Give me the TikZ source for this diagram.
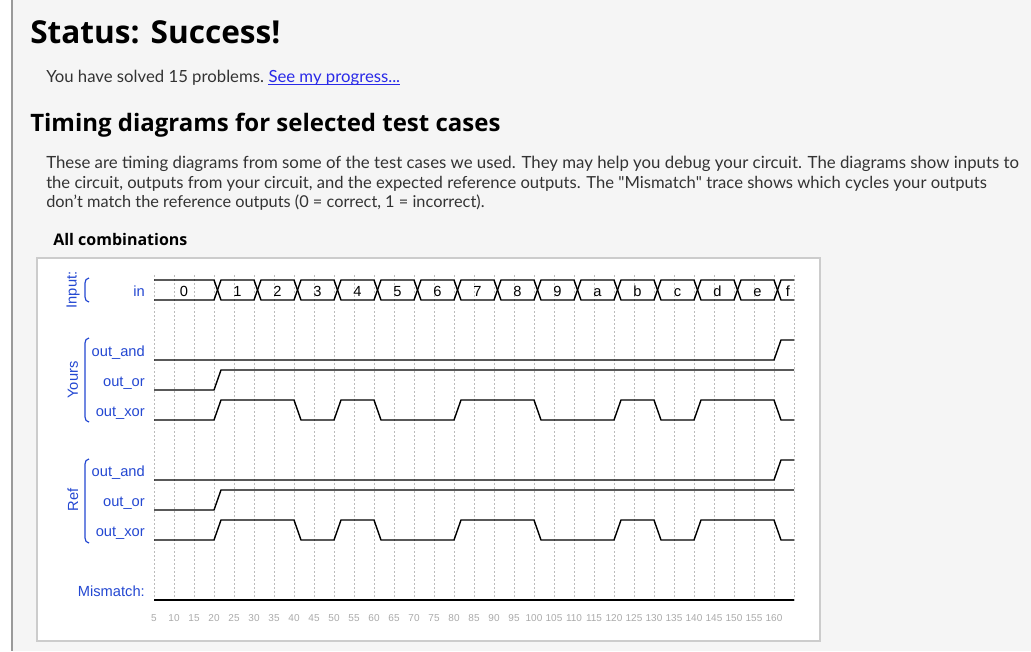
\documentclass[tikz,border=0pt]{standalone}
\usepackage{fontspec}
\setmainfont{Lato}
\newfontfamily\headfont{Open Sans}
\newfontfamily\wavefont{Liberation Sans}
\newfontfamily\quotefont{Lato}
\usetikzlibrary{positioning}

\definecolor{pagegray}{HTML}{F5F5F5}
\definecolor{edgegray}{HTML}{9A9A9A}
\definecolor{boxgray}{HTML}{CCCCCC}
\definecolor{bodytext}{HTML}{333333}
\definecolor{linkblue}{HTML}{2A2AE8}
\definecolor{sigblue}{HTML}{2448D2}
\definecolor{gridgray}{HTML}{BBBBBB}
\definecolor{tickgray}{HTML}{AAAAAA}

\begin{document}
\begin{tikzpicture}[x=0.75pt,y=-0.75pt,
    bigheading/.style={anchor=base west,inner sep=0pt,font=\headfont\bfseries\fontsize{23.7}{28}\selectfont},
    subheading/.style={anchor=base west,inner sep=0pt,font=\headfont\bfseries\fontsize{18}{21}\selectfont},
    smallheading/.style={anchor=base west,inner sep=0pt,font=\headfont\bfseries\fontsize{12}{14}\selectfont},
    bodyline/.style={anchor=base west,inner sep=0pt,text=bodytext},
    siglabel/.style={anchor=base east,inner sep=0pt,text=sigblue,font=\wavefont\fontsize{11}{13}\selectfont},
    grouplabel/.style={rotate=90,inner sep=0pt,text=sigblue,font=\wavefont\fontsize{11}{13}\selectfont},
    groupbrace/.style={draw=sigblue,line width=0.9pt},
    wave/.style={draw=black,line width=1.05pt},
    buscell/.style={draw=black,line width=1.05pt},
    busvalue/.style={anchor=base,inner sep=0pt,font=\wavefont\fontsize{11}{13}\selectfont},
    gridline/.style={draw=gridgray,line width=0.75pt,dash pattern=on 1.5pt off 1.5pt},
    ticklabel/.style={anchor=base,inner sep=0pt,text=tickgray,font=\wavefont\fontsize{7.5}{9}\selectfont}]

    % page
    \useasboundingbox (0,0) rectangle (1031,651);
    \fill[white] (0,0) rectangle (1031,651);
    \fill[pagegray] (12,0) rectangle (1031,651);
    \draw[edgegray,line width=1.5pt] (12,0) -- (12,651);

    % headings and text
    \node[bigheading] (status) at (30,43) {Status: Success!};
    \node[bodyline,font=\fontsize{12.55}{15}\selectfont] (solved) at (46,82) {You have solved 15 problems.};
    \node[bodyline,font=\fontsize{12.55}{15}\selectfont,text=linkblue,anchor=base west] (progress) at ([xshift=3pt]solved.base east) {See my progress...};
    \draw[linkblue,line width=0.6pt] ([yshift=-1.6pt]progress.base west) -- ([yshift=-1.6pt]progress.base east);
    \node[subheading] (timing) at (30,131) {Timing diagrams for selected test cases};
    \node[bodyline,font=\fontsize{12.6}{15}\selectfont] (para1) at (46,168) {These are timing diagrams from some of the test cases we used. They may help you debug your circuit. The diagrams show inputs to};
    \node[bodyline,font=\fontsize{12.45}{15}\selectfont] (para2) at (46,188) {the circuit, outputs from your circuit, and the expected reference outputs. The {\quotefont"}Mismatch{\quotefont"} trace shows which cycles your outputs};
    \node[bodyline,font=\fontsize{12.25}{15}\selectfont] (para3) at (46,207) {don't match the reference outputs (0 = correct, 1 = incorrect).};
    \node[smallheading] (allcomb) at (53,245) {All combinations};

    % chart frame
    \draw[boxgray,fill=white,line width=1pt] (37,258) rectangle (820,641);

    % time grid
    \foreach \t in {5,10,...,165}
        \draw[gridline] ({134+4*\t},275) -- ({134+4*\t},603);
    \foreach \t in {5,10,...,160}
        \node[ticklabel] (tick\t) at ({134+4*\t},621) {\t};

    % input bus
    \draw[buscell] (154,280) -- (214,280) -- (217.5,290) -- (214,300) -- (154,300);
    \node[busvalue] (val0) at (184,296) {0};
    \foreach \v [count=\i, evaluate=\i as \xa using 174+40*\i] in {1,2,3,4,5,6,7,8,9,a,b,c,d,e} {
        \draw[buscell] ({\xa+3.5},290) -- ({\xa+7},280) -- ({\xa+40},280) -- ({\xa+43.5},290)
            -- ({\xa+40},300) -- ({\xa+7},300) -- cycle;
        \node[busvalue] (val\v) at ({\xa+23.5},296) {\v};
    }
    \draw[buscell] (794,280) -- (781,280) -- (777.5,290) -- (781,300) -- (794,300);
    \node[busvalue] (valf) at (788,296) {f};

    % outputs, yours and reference
    \foreach \off/\grp in {0/Y,120/R} {
        \begin{scope}[shift={(0,\off)}]
            \draw[wave] (154,360) -- (774,360) -- (781,340) -- (794,340);
            \draw[wave] (154,390) -- (214,390) -- (221,370) -- (794,370);
            \draw[wave] (154,420) -- (214,420) -- (221,400) -- (294,400) -- (301,420) -- (334,420)
                -- (341,400) -- (374,400) -- (381,420) -- (454,420) -- (461,400) -- (534,400)
                -- (541,420) -- (614,420) -- (621,400) -- (654,400) -- (661,420) -- (694,420)
                -- (701,400) -- (774,400) -- (781,420) -- (794,420);
            \node[siglabel] (and\grp) at (145,356) {out\_and};
            \node[siglabel] (or\grp) at (145,386) {out\_or};
            \node[siglabel] (xor\grp) at (145,416) {out\_xor};
        \end{scope}
    }
    \node[siglabel] (inlbl) at (145,296) {in};
    \draw[wave] (154,600) -- (794,600);
    \node[siglabel] (mismatch) at (145,596) {Mismatch:};

    % groups
    \node[grouplabel] (grpInput) at (73,290) {Input:};
    \draw[groupbrace] (89,278) to[out=180,in=90] (85,283) -- (85,297) to[out=-90,in=180] (89,302);
    \node[grouplabel] (grpYours) at (73,380) {Yours};
    \draw[groupbrace] (89,338) to[out=180,in=90] (85,343) -- (85,417) to[out=-90,in=180] (89,422);
    \node[grouplabel] (grpRef) at (73,500) {Ref};
    \draw[groupbrace] (89,459) to[out=180,in=90] (85,464) -- (85,538) to[out=-90,in=180] (89,543);
\end{tikzpicture}
\end{document}
